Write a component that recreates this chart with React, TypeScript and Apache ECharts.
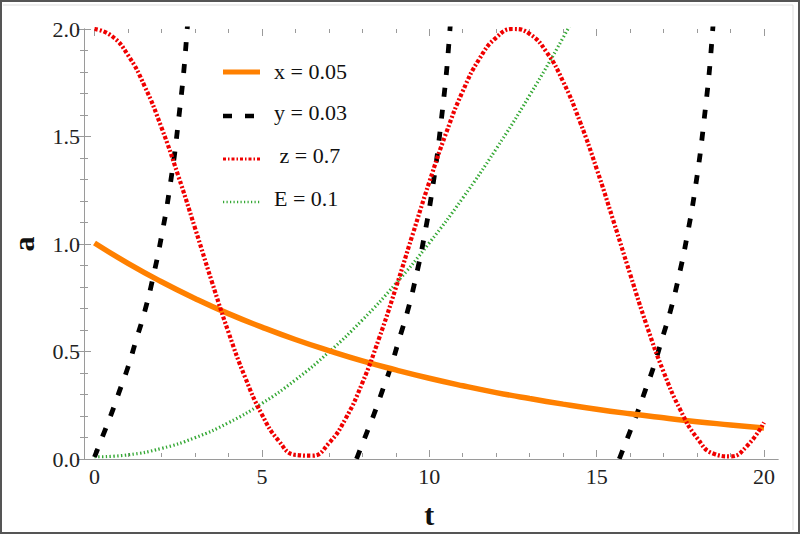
import React, { useEffect, useRef } from "react";
import * as echarts from "echarts";

// ---- data ----
const orangeT = [0, 1, 2, 3, 4, 5, 6, 7, 8, 9, 10, 11, 12, 13, 14, 15, 16, 17, 18, 19, 20];
const orangeA = [1.0, 0.905, 0.819, 0.741, 0.67, 0.607, 0.549, 0.497, 0.449, 0.407, 0.368, 0.333, 0.301, 0.273, 0.247, 0.223, 0.202, 0.183, 0.165, 0.15, 0.135];

const blackT1 = [0, 0.25, 0.5, 0.75, 1, 1.25, 1.5, 1.75, 2, 2.25, 2.5, 2.75, 3];
const blackA1 = [0, 0.1, 0.2, 0.31, 0.42, 0.55, 0.68, 0.84, 1.03, 1.26, 1.56, 1.96, 2.57];
const blackT2 = [7.35, 7.6, 7.85, 8.1, 8.35, 8.6, 8.85, 9.1, 9.35, 9.6, 9.85, 10.1, 10.35, 10.6, 10.85];
const blackA2 = [-0.2, -0.1, 0, 0.1, 0.2, 0.31, 0.42, 0.55, 0.68, 0.84, 1.03, 1.26, 1.56, 1.96, 2.57];
const blackT3 = [15.2, 15.45, 15.7, 15.95, 16.2, 16.45, 16.7, 16.95, 17.2, 17.45, 17.7, 17.95, 18.2, 18.45, 18.7];
const blackA3 = [-0.2, -0.1, 0, 0.1, 0.2, 0.31, 0.42, 0.55, 0.68, 0.84, 1.03, 1.26, 1.56, 1.96, 2.57];

const redT = [0, 0.5, 1, 1.5, 2, 2.5, 3, 3.5, 4, 4.5, 5, 5.5, 6, 6.5, 7, 7.5, 8, 8.5, 9, 9.5, 10, 10.5, 11, 11.5, 12, 12.5, 13, 13.5, 14, 14.5, 15, 15.5, 16, 16.5, 17, 17.5, 18, 18.5, 19, 19.5, 20];
const redA = [2.0, 1.969, 1.878, 1.732, 1.54, 1.315, 1.071, 0.822, 0.584, 0.372, 0.199, 0.076, 0.01, 0.006, 0.064, 0.179, 0.346, 0.554, 0.789, 1.038, 1.284, 1.512, 1.709, 1.861, 1.96, 2.0, 1.977, 1.893, 1.754, 1.568, 1.347, 1.104, 0.855, 0.613, 0.398, 0.22, 0.089, 0.015, 0.003, 0.053, 0.161];

const greenT = [0, 1, 2, 3, 4, 5, 6, 7, 8, 9, 10, 11, 12, 13, 14, 15];
const greenA = [0, 0.01, 0.04, 0.09, 0.16, 0.25, 0.36, 0.49, 0.64, 0.81, 1.0, 1.21, 1.44, 1.69, 1.96, 2.25];

const legendNames = ["x = 0.05", "y = 0.03", " z = 0.7", "E = 0.1"];
const xAxisTitle = "t";
const yAxisTitle = "a";

const pairs = (t: number[], a: number[]) => t.map((v, i) => [v, a[i]]);

const FONT = "'Liberation Serif', 'Times New Roman', serif";
const ORANGE = "#ff8000";
const BLACK = "#000000";
const RED = "#f00000";
const GREEN = "#35a835";
const FRAME = "#9a9a9a";

const RED_DASH = [3.5, 2, 2, 2];
const GREEN_DASH = [1.4, 2.4];
const BLACK_DASH = [9, 13];

export default function App() {
  const ref = useRef<HTMLDivElement>(null);

  useEffect(() => {
    if (!ref.current) return;
    const chart = echarts.init(ref.current, undefined, { renderer: "svg" });

    const blackData: any[] = [
      ...pairs(blackT1, blackA1),
      [3.2, null],
      ...pairs(blackT2, blackA2),
      [11.0, null],
      ...pairs(blackT3, blackA3),
    ];

    const tickCommon = {
      axisLine: { show: false },
      splitLine: { show: false },
    };

    const legendRows = [
      { y: 72, ty: 71, tx: 274, stroke: ORANGE, w: 5, dash: null as any },
      { y: 116, ty: 112, tx: 274, stroke: BLACK, w: 4.5, dash: BLACK_DASH },
      { y: 159, ty: 155, tx: 274, stroke: RED, w: 3, dash: [3, 2, 1.5, 2] },
      { y: 202, ty: 198, tx: 274, stroke: GREEN, w: 2.5, dash: [1.2, 2.3] },
    ];

    const graphics: any[] = [
      {
        type: "rect",
        shape: { x: 1, y: 1, width: 798, height: 532 },
        style: { fill: "none", stroke: "#555", lineWidth: 2 },
        silent: true,
      },
      {
        type: "polyline",
        shape: { points: [[3, 5], [793, 5], [793, 530]] },
        style: { stroke: "#dddddd", lineWidth: 1, fill: "none" },
        silent: true,
      },
    ];
    legendRows.forEach((r, i) => {
      graphics.push({
        type: "line",
        shape: { x1: 223, y1: r.y, x2: 260, y2: r.y },
        style: { stroke: r.stroke, lineWidth: r.w, lineDash: r.dash || undefined },
        silent: true,
      });
      graphics.push({
        type: "text",
        x: r.tx,
        y: r.ty,
        style: {
          text: legendNames[i],
          fill: "#111",
          fontSize: 22,
          fontFamily: FONT,
          verticalAlign: "middle",
          align: "left",
        },
        silent: true,
      });
    });

    chart.setOption({
      animation: false,
      backgroundColor: "#ffffff",
      grid: [
        { left: 80, right: 22, top: 29, bottom: 75, containLabel: false },
        { left: 94.5, right: 36, top: 29, bottom: 75, containLabel: false },
      ],
      xAxis: [
        {
          gridIndex: 0, type: "value", min: 0, max: 1, position: "bottom",
          axisLine: { show: true, lineStyle: { color: FRAME, width: 1 } },
          axisTick: { show: false }, axisLabel: { show: false }, splitLine: { show: false },
        },
        {
          gridIndex: 0, type: "value", min: 0, max: 1, position: "top",
          axisLine: { show: true, lineStyle: { color: FRAME, width: 1 } },
          axisTick: { show: false }, axisLabel: { show: false }, splitLine: { show: false },
        },
        {
          gridIndex: 1, type: "value", min: 0, max: 20, interval: 5, position: "bottom",
          ...tickCommon,
          axisTick: { show: true, inside: true, length: 7, lineStyle: { color: FRAME } },
          minorTick: { show: true, splitNumber: 5, length: 4, lineStyle: { color: FRAME } },
          axisLabel: { show: true, fontSize: 22, fontFamily: FONT, color: "#222", margin: 8 },
          name: xAxisTitle,
          nameLocation: "middle",
          nameGap: 42,
          nameTextStyle: { fontSize: 30, fontWeight: "bold", fontFamily: FONT, color: "#111" },
        },
        {
          gridIndex: 1, type: "value", min: 0, max: 20, interval: 5, position: "top",
          ...tickCommon,
          axisTick: { show: true, inside: true, length: 7, lineStyle: { color: FRAME } },
          minorTick: { show: true, splitNumber: 5, length: 4, lineStyle: { color: FRAME } },
          axisLabel: { show: false },
        },
      ],
      yAxis: [
        {
          gridIndex: 0, type: "value", min: 0, max: 2, interval: 0.5, position: "left",
          axisLine: { show: true, lineStyle: { color: FRAME, width: 1 } },
          axisTick: { show: true, inside: true, length: 7, lineStyle: { color: FRAME } },
          minorTick: { show: true, splitNumber: 5, length: 4, lineStyle: { color: FRAME } },
          splitLine: { show: false },
          axisLabel: {
            show: true, fontSize: 22, fontFamily: FONT, color: "#222", margin: 4,
            formatter: (v: number) => v.toFixed(1),
          },
          name: yAxisTitle,
          nameLocation: "middle",
          nameGap: 46,
          nameRotate: 90,
          nameTextStyle: { fontSize: 30, fontWeight: "bold", fontFamily: FONT, color: "#111" },
        },
        {
          gridIndex: 0, type: "value", min: 0, max: 2, interval: 0.5, position: "right",
          axisLine: { show: true, lineStyle: { color: FRAME, width: 1 } },
          axisTick: { show: true, inside: true, length: 7, lineStyle: { color: FRAME } },
          minorTick: { show: true, splitNumber: 5, length: 4, lineStyle: { color: FRAME } },
          splitLine: { show: false },
          axisLabel: { show: false },
        },
        {
          gridIndex: 1, type: "value", min: 0, max: 2, show: false,
        },
      ],
      series: [
        {
          name: legendNames[3], type: "line", xAxisIndex: 2, yAxisIndex: 2,
          data: pairs(greenT, greenA), smooth: true, showSymbol: false, symbol: "none",
          lineStyle: { color: GREEN, width: 3.2, type: GREEN_DASH, cap: "butt" }, clip: true, z: 2,
        },
        {
          name: legendNames[1], type: "line", xAxisIndex: 2, yAxisIndex: 2,
          data: blackData, smooth: true, showSymbol: false, symbol: "none", connectNulls: false,
          lineStyle: { color: BLACK, width: 4.8, type: BLACK_DASH, cap: "butt" }, clip: true, z: 3,
        },
        {
          name: legendNames[0], type: "line", xAxisIndex: 2, yAxisIndex: 2,
          data: pairs(orangeT, orangeA), smooth: true, showSymbol: false, symbol: "none",
          lineStyle: { color: ORANGE, width: 5.5 }, clip: true, z: 4,
        },
        {
          name: legendNames[2], type: "line", xAxisIndex: 2, yAxisIndex: 2,
          data: pairs(redT, redA), smooth: true, showSymbol: false, symbol: "none",
          lineStyle: { color: RED, width: 4.2, type: RED_DASH, cap: "butt" }, clip: true, z: 5,
        },
      ],
      graphic: graphics,
    });

    return () => chart.dispose();
  }, []);

  return (
    <div
      ref={ref}
      style={{ position: "fixed", left: 0, top: 0, width: 800, height: 534, background: "#fff" }}
    />
  );
}
